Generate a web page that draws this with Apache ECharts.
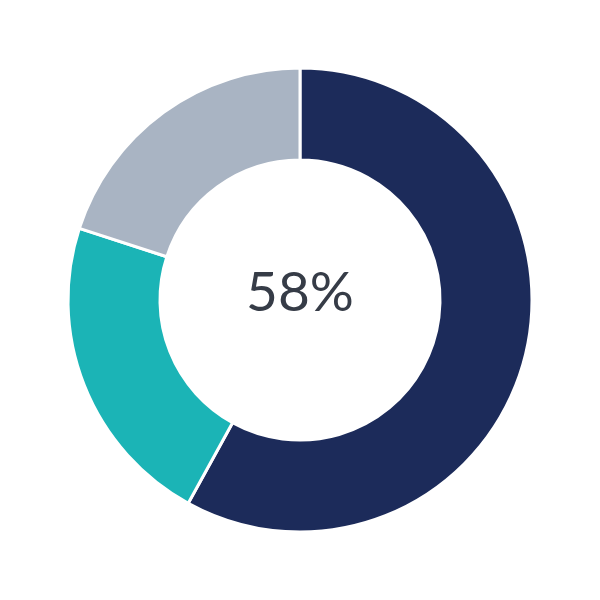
<!DOCTYPE html>
<html><head><meta charset="utf-8">
<script src="https://cdn.jsdelivr.net/npm/echarts@6/dist/echarts.min.js"></script>
<style>html,body{margin:0;padding:0;background:#fff}#c{width:600px;height:600px}</style>
</head><body><div id="c"></div>
<script>
const categories = ['A', 'B', 'C'];
const values = [58, 22, 20];
const colors = ['#1c2b5a', '#1bb4b6', '#a9b4c3'];
const centerLabel = '58%';

const chart = echarts.init(document.getElementById('c'));
chart.setOption({
  animation: false,
  graphic: [{
    type: 'text', left: 'center', top: 266,
    style: { text: centerLabel, fontFamily: 'Lato', fontWeight: 'normal', fontSize: 55, fill: '#363c47' }
  }],
  series: [{
    type: 'pie',
    center: ['50%', '50%'],
    radius: [140, 232],
    startAngle: 90,
    clockwise: true,
    label: { show: false },
    labelLine: { show: false },
    itemStyle: { borderColor: '#fff', borderWidth: 3 },
    data: categories.map((c, i) => ({ name: c, value: values[i], itemStyle: { color: colors[i] } }))
  }]
});
</script></body></html>
